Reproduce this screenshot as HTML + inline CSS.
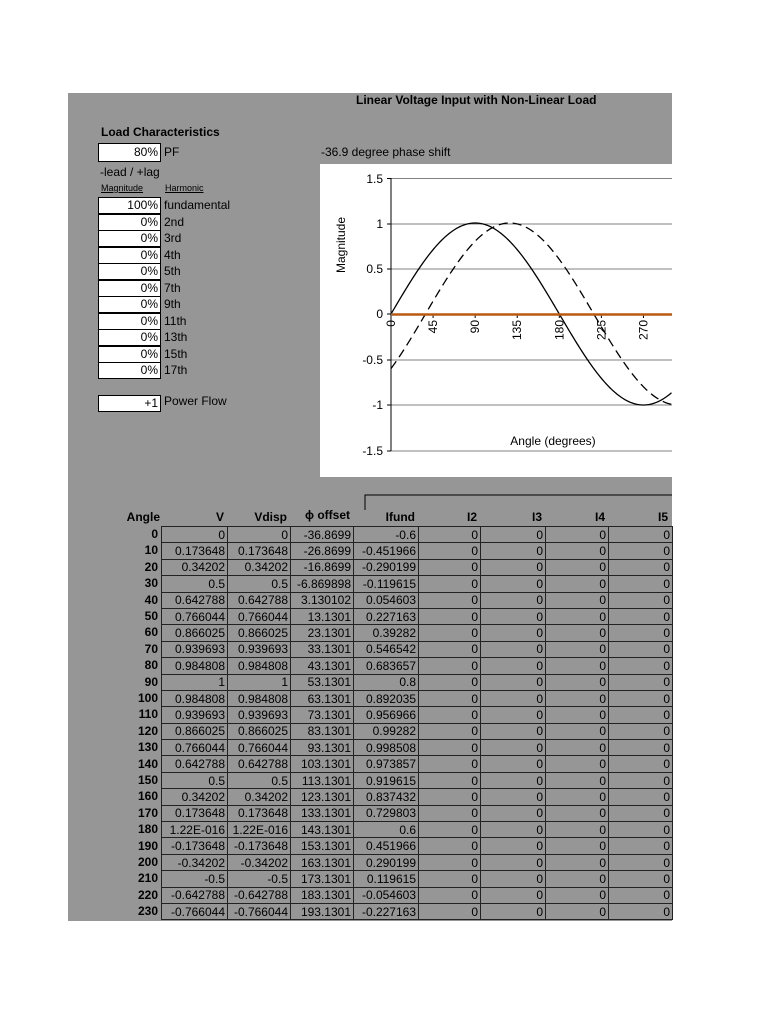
<!DOCTYPE html>
<html><head><meta charset="utf-8"><style>
body{margin:0;width:768px;height:1024px;background:#fff;position:relative;font-family:"Liberation Sans",sans-serif;overflow:hidden}
#g{position:absolute;left:68px;top:93px;width:604px;height:828px;background:#969696}
.t{position:absolute;font-size:12px;color:#000;white-space:nowrap}
.box{position:absolute;left:98px;width:63px;background:#fff;border:1px solid #000;box-sizing:border-box;font-size:12px;text-align:right;padding-right:2px;line-height:15px}
table{position:absolute;left:161px;top:526px;border-collapse:collapse;font-size:12px}
td{border:1px solid #222;height:15.4px;padding:0 2px 0 0;text-align:right;line-height:14px;box-sizing:border-box}
.h{position:absolute;font-size:12px;font-weight:bold;text-align:right}
</style></head><body>
<div id="g"></div>
<div class="t" style="left:356px;top:93px;font-weight:bold">Linear Voltage Input with Non-Linear Load</div>
<div class="t" style="left:101px;top:125px;font-weight:bold">Load Characteristics</div>
<div class="box" style="top:143px;height:19px;line-height:17px">80%</div>
<div class="t" style="left:164px;top:145px">PF</div>
<div class="t" style="left:100px;top:165px">-lead / +lag</div>
<div class="t" style="left:101px;top:183px;font-size:9px;text-decoration:underline">Magnitude</div>
<div class="t" style="left:165px;top:183px;font-size:9px;text-decoration:underline">Harmonic</div>
<div id="harm"></div>
<div class="box" style="top:395px;height:17px">+1</div>
<div class="t" style="left:164px;top:394px">Power Flow</div>
<div class="t" style="left:321px;top:145px">-36.9  degree phase shift</div>
<svg style="position:absolute;left:0;top:0" width="768" height="1024" id="sv">
<rect x="320" y="164" width="352" height="313" fill="#fff"/>
<g stroke="#808080" stroke-width="1">
<line x1="391" y1="178.5" x2="672" y2="178.5"/><line x1="391" y1="224" x2="672" y2="224"/><line x1="391" y1="269" x2="672" y2="269"/><line x1="391" y1="360" x2="672" y2="360"/><line x1="391" y1="405" x2="672" y2="405"/><line x1="391" y1="451" x2="672" y2="451"/></g>
<line x1="391" y1="178" x2="391" y2="451" stroke="#000"/>
<g stroke="#000"><line x1="387" y1="178.5" x2="391" y2="178.5"/><line x1="387" y1="224" x2="391" y2="224"/><line x1="387" y1="269" x2="391" y2="269"/><line x1="387" y1="314" x2="391" y2="314"/><line x1="387" y1="360" x2="391" y2="360"/><line x1="387" y1="405" x2="391" y2="405"/><line x1="387" y1="451" x2="391" y2="451"/></g>
<g font-family="Liberation Sans" font-size="12" text-anchor="end">
<text x="383" y="183">1.5</text><text x="383" y="228">1</text><text x="383" y="273">0.5</text><text x="383" y="318">0</text><text x="383" y="364">-0.5</text><text x="383" y="409">-1</text><text x="383" y="455">-1.5</text></g>
<text transform="translate(345,245) rotate(-90)" font-family="Liberation Sans" font-size="12" text-anchor="middle">Magnitude</text>
<text x="553" y="445" font-family="Liberation Sans" font-size="12" text-anchor="middle">Angle (degrees)</text>
<g id="xl" font-family="Liberation Sans" font-size="12"></g>
<path id="p1" fill="none" stroke="#000" stroke-width="1.3"/>
<path id="p2" fill="none" stroke="#000" stroke-width="1.3" stroke-dasharray="9,5"/>
<line x1="391" y1="314.5" x2="672" y2="314.5" stroke="#b85a10" stroke-width="2.5"/>
<polyline points="365,510 365,495 672,495" fill="none" stroke="#000"/>
</svg>
<div class="h" style="left:100px;top:510px;width:60px">Angle</div>
<div class="h" style="left:162px;top:510px;width:62px">V</div>
<div class="h" style="left:227px;top:510px;width:60px">Vdisp</div>
<div class="h" style="left:290px;top:508px;width:60px">ϕ offset</div>
<div class="h" style="left:353px;top:510px;width:62px">Ifund</div>
<div class="h" style="left:418px;top:510px;width:59px">I2</div>
<div class="h" style="left:480px;top:510px;width:62px">I3</div>
<div class="h" style="left:545px;top:510px;width:60px">I4</div>
<div class="h" style="left:608px;top:510px;width:60px">I5</div>
<div id="ang"></div>
<table id="tb"></table>
<script>
var hs=["100%|fundamental","0%|2nd","0%|3rd","0%|4th","0%|5th","0%|7th","0%|9th","0%|11th","0%|13th","0%|15th","0%|17th"],h="";
hs.forEach(function(s,i){var p=s.split("|"),y=197+i*16.5;h+='<div class="box" style="top:'+y+'px;height:17px">'+p[0]+'</div><div class="t" style="left:164px;top:'+(y+1)+'px">'+p[1]+'</div>';});
document.getElementById("harm").innerHTML=h;
var X=function(d){return 391+d*0.935},Y=function(v){return 314-v*91};
var a="",b="";for(var d=0;d<=301;d+=2){a+=(d?"L":"M")+X(d)+","+Y(Math.sin(d*Math.PI/180));b+=(d?"L":"M")+X(d)+","+Y(Math.sin((d-36.87)*Math.PI/180));}
document.getElementById("p1").setAttribute("d",a);document.getElementById("p2").setAttribute("d",b);
var xl="";[0,45,90,135,180,225,270].forEach(function(d){var x=X(d);xl+='<line x1="'+x+'" y1="314" x2="'+x+'" y2="318" stroke="#000"/><text transform="translate('+(x+4)+',320) rotate(-90)" text-anchor="end">'+d+'</text>';});
document.getElementById("xl").innerHTML=xl;
var R=[["0","0","-36.8699","-0.6"],["0.173648","0.173648","-26.8699","-0.451966"],["0.34202","0.34202","-16.8699","-0.290199"],["0.5","0.5","-6.869898","-0.119615"],["0.642788","0.642788","3.130102","0.054603"],["0.766044","0.766044","13.1301","0.227163"],["0.866025","0.866025","23.1301","0.39282"],["0.939693","0.939693","33.1301","0.546542"],["0.984808","0.984808","43.1301","0.683657"],["1","1","53.1301","0.8"],["0.984808","0.984808","63.1301","0.892035"],["0.939693","0.939693","73.1301","0.956966"],["0.866025","0.866025","83.1301","0.99282"],["0.766044","0.766044","93.1301","0.998508"],["0.642788","0.642788","103.1301","0.973857"],["0.5","0.5","113.1301","0.919615"],["0.34202","0.34202","123.1301","0.837432"],["0.173648","0.173648","133.1301","0.729803"],["1.22E-016","1.22E-016","143.1301","0.6"],["-0.173648","-0.173648","153.1301","0.451966"],["-0.34202","-0.34202","163.1301","0.290199"],["-0.5","-0.5","173.1301","0.119615"],["-0.642788","-0.642788","183.1301","-0.054603"],["-0.766044","-0.766044","193.1301","-0.227163"]];
var W=[66,63,63,65,62,65,63,64],t="",an="";
R.forEach(function(r,i){t+="<tr>";r.concat(["0","0","0","0"]).forEach(function(c,j){t+='<td style="width:'+W[j]+'px">'+c+'</td>';});t+="</tr>";
an+='<div class="h" style="left:100px;top:'+(527+i*16.4)+'px;width:58px">'+(i*10)+'</div>';});
document.getElementById("tb").innerHTML=t;document.getElementById("ang").innerHTML=an;
var tds=document.querySelectorAll("tr");tds.forEach(function(tr){tr.style.height="16.4px"});
</script>
</body></html>
